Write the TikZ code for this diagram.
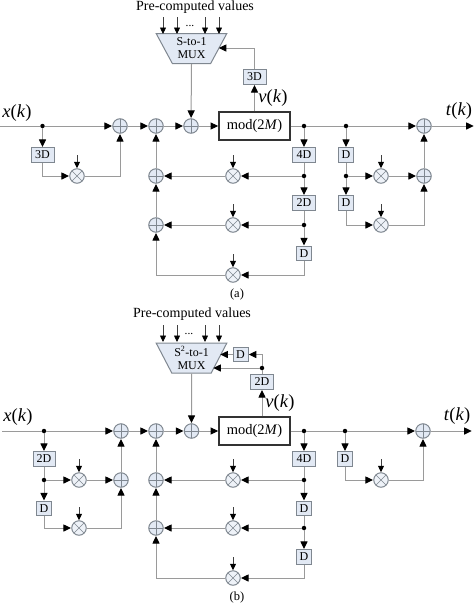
\documentclass[tikz,border=0pt]{standalone}
\usepackage{fontspec}
\setmainfont{Liberation Serif}
\usetikzlibrary{arrows.meta,shapes.geometric}
\definecolor{ln}{HTML}{9A9A9A}
\definecolor{bd}{HTML}{7F8790}
\definecolor{fl}{HTML}{E2E9F4}
\tikzset{
 conn/.style={draw=ln,line width=1pt,-{Triangle[length=7.5pt,width=7pt,color=black]},shorten >=0.3pt},
 plain/.style={draw=ln,line width=1pt},
 inarrow/.style={draw=black!75,line width=.7pt,-{Triangle[length=6.5pt,width=6pt,color=black]}},
 adderbase/.style={circle,draw=bd,line width=1pt,fill=fl,minimum size=14.5pt,inner sep=0pt},
 adder/.style={adderbase,path picture={\draw[bd,line width=.6pt] (path picture bounding box.north)--(path picture bounding box.south) (path picture bounding box.west)--(path picture bounding box.east);}},
 multi/.style={adderbase,fill=fl!60,path picture={\draw[bd,line width=.6pt] (path picture bounding box.north west)--(path picture bounding box.south east) (path picture bounding box.north east)--(path picture bounding box.south west);}},
 delaybox/.style={draw=bd,line width=1pt,fill=fl,minimum height=14.5pt,inner sep=0pt,font=\fontsize{12}{12}\selectfont},
 joint/.style={circle,fill=black,minimum size=4.5pt,inner sep=0pt},
 modbox/.style={draw=black!80,line width=1.1pt,fill=white,minimum width=71pt,minimum height=28pt,inner sep=0pt,font=\fontsize{14.5}{14.5}\selectfont},
 muxbox/.style={trapezium,trapezium stretches=true,shape border rotate=180,trapezium left angle=59,trapezium right angle=59,draw=bd,line width=1pt,fill=fl,minimum width=71pt,minimum height=30pt,inner sep=0pt,align=center,font=\fontsize{12}{14}\selectfont},
 sig/.style={font=\fontsize{18.5}{18.5}\selectfont,inner sep=0pt},
 captext/.style={font=\fontsize{14}{14}\selectfont,inner sep=0pt},
 smalltext/.style={font=\fontsize{12.5}{12.5}\selectfont,inner sep=0pt},
 subtext/.style={font=\fontsize{11.5}{11.5}\selectfont,inner sep=0pt},
}
\newcommand{\addnode}[3]{\node[adder] (#1) at (#2,#3) {};}
\newcommand{\mulnode}[3]{\node[multi] (#1) at (#2,#3) {};\coordinate (#1i) at (#2,#3-21);\draw[inarrow] (#1i) -- (#1);}
\newcommand{\dotnode}[3]{\node[joint] (#1) at (#2,#3) {};}
\newcommand{\delnode}[5]{\node[delaybox,minimum width=#5pt] (#1) at (#2,#3) {#4};}
\newcommand{\muxin}[3]{\coordinate (#1s) at (#2,#3-17);\coordinate (#1e) at (#2,#3);\draw[inarrow] (#1s) -- (#1e);}
\begin{document}
\begin{tikzpicture}[x=1pt,y=-1pt]
\useasboundingbox (0,0) rectangle (474,603);
% ---------- (a)
\node[captext] (tA) at (195,7.5) {Pre-computed values};
\node[muxbox] (muxA) at (191.5,48.5) {S-to-1\\[-1pt]MUX};
\muxin{ia1}{163}{34}\muxin{ia2}{177}{34}\muxin{ia3}{205}{34}\muxin{ia4}{219}{34}
\node[subtext] (dotsA) at (190,26) {...};
\coordinate (sA) at (0,126);
\dotnode{jA0}{42.5}{126}
\addnode{aA1}{120}{126}\addnode{aA2}{156}{126}\addnode{aA3}{191}{126}
\node[modbox] (modA) at (254.5,126) {mod(2\textit{M})};
\dotnode{jA1}{304}{126}\dotnode{jA2}{346}{126}
\addnode{aA4}{424}{126}
\coordinate (eA) at (474,126);
\node[sig] (xA) at (17,113) {\textit{x}(\textit{k})};
\node[sig] (tkA) at (459,111) {\textit{t}(\textit{k})};
\node[sig] (vA) at (273,98) {\textit{v}(\textit{k})};
\delnode{d3A}{254.5}{77}{3D}{23}
\coordinate (muxAr) at (218.5,48);
\draw[plain] (sA) -- (jA0);
\draw[conn] (jA0) -- (aA1);
\draw[conn] (aA1) -- (aA2);
\draw[conn] (aA2) -- (aA3);
\draw[conn] (aA3) -- (modA);
\draw[plain] (modA.east) -- (jA1);
\draw[plain] (jA1) -- (jA2);
\draw[conn] (jA2) -- (aA4);
\draw[conn] (aA4) -- (eA);
\draw[conn] (muxA.south) -- (aA3);
\draw[conn] (modA.north -| d3A) -- (d3A);
\draw[conn] (d3A) |- (muxAr);
% left FIR (a)
\delnode{d1A}{42.5}{155}{3D}{23}
\mulnode{mA0}{77}{176}
\draw[conn] (jA0) -- (d1A);
\draw[conn] (d1A) |- (mA0);
\draw[conn] (mA0) -| (aA1);
% feedback (a)
\addnode{aA5}{156}{176}\addnode{aA6}{156}{225}
\mulnode{mA1}{233}{176}\mulnode{mA2}{233}{225}\mulnode{mA3}{233}{275}
\delnode{dA4}{304}{155}{4D}{23}
\dotnode{jA3}{304}{176}
\delnode{dA5}{304}{203}{2D}{23}
\dotnode{jA4}{304}{225}
\delnode{dA6}{304}{253.5}{D}{15}
\draw[conn] (jA1) -- (dA4);
\draw[plain] (dA4) -- (jA3);
\draw[conn] (jA3) -- (dA5);
\draw[plain] (dA5) -- (jA4);
\draw[conn] (jA4) -- (dA6);
\draw[conn] (jA3) -- (mA1);
\draw[conn] (jA4) -- (mA2);
\draw[conn] (dA6) |- (mA3);
\draw[conn] (mA1) -- (aA5);
\draw[conn] (mA2) -- (aA6);
\draw[conn] (mA3) -| (aA6);
\draw[conn] (aA6) -- (aA5);
\draw[conn] (aA5) -- (aA2);
% right FIR (a)
\delnode{dA7}{346}{155}{D}{15}
\dotnode{jA5}{346}{176}
\delnode{dA8}{346}{203}{D}{15}
\mulnode{mA4}{381}{176}\mulnode{mA5}{381}{225}
\addnode{aA7}{424}{176}
\draw[conn] (jA2) -- (dA7);
\draw[plain] (dA7) -- (jA5);
\draw[conn] (jA5) -- (dA8);
\draw[conn] (jA5) -- (mA4);
\draw[conn] (dA8) |- (mA5);
\draw[conn] (mA4) -- (aA7);
\draw[conn] (mA5) -| (aA7);
\draw[conn] (aA7) -- (aA4);
\node[smalltext] (lA) at (237,294) {(a)};
% ---------- (b)
\node[captext] (tB) at (192,314) {Pre-computed values};
\node[muxbox] (muxB) at (191.5,358) {S\textsuperscript{2}-to-1\\[-1pt]MUX};
\muxin{ib1}{163}{342}\muxin{ib2}{177}{342}\muxin{ib3}{205}{342}\muxin{ib4}{219}{342}
\node[subtext] (dotsB) at (189,334) {...};
\coordinate (sB) at (2,431);
\dotnode{jB0}{44}{431}
\addnode{aB1}{121}{431}\addnode{aB2}{156}{431}\addnode{aB3}{191.5}{431}
\node[modbox] (modB) at (254.5,431) {mod(2\textit{M})};
\dotnode{jB1}{304}{431}\dotnode{jB2}{345}{431}
\addnode{aB4}{423}{431}
\coordinate (eB) at (472,431);
\node[sig] (xB) at (18,417) {\textit{x}(\textit{k})};
\node[sig] (tkB) at (457,416) {\textit{t}(\textit{k})};
\node[sig] (vB) at (280,403) {\textit{v}(\textit{k})};
\delnode{d2B}{262}{382}{2D}{23}
\dotnode{jB6}{262}{368}
\delnode{d1B}{240.5}{354.5}{D}{15}
\coordinate (muxBa) at (220,354.5);
\coordinate (muxBb) at (213,368);
\draw[plain] (sB) -- (jB0);
\draw[conn] (jB0) -- (aB1);
\draw[conn] (aB1) -- (aB2);
\draw[conn] (aB2) -- (aB3);
\draw[conn] (aB3) -- (modB);
\draw[plain] (modB.east) -- (jB1);
\draw[plain] (jB1) -- (jB2);
\draw[conn] (jB2) -- (aB4);
\draw[conn] (aB4) -- (eB);
\draw[conn] (muxB.south) -- (aB3);
\draw[conn] (modB.north -| d2B) -- (d2B);
\draw[plain] (d2B) -- (jB6);
\draw[conn] (jB6) -- (muxBb);
\draw[conn] (jB6) |- (d1B);
\draw[conn] (d1B) -- (muxBa);
% left FIR (b)
\delnode{dB1}{44}{459}{2D}{22}
\dotnode{jB3}{44}{480}
\delnode{dB2}{44}{508.5}{D}{15}
\mulnode{mB0}{79}{480}\mulnode{mB1}{79}{528}
\addnode{aB5}{121}{480}
\draw[conn] (jB0) -- (dB1);
\draw[plain] (dB1) -- (jB3);
\draw[conn] (jB3) -- (dB2);
\draw[conn] (jB3) -- (mB0);
\draw[conn] (dB2) |- (mB1);
\draw[conn] (mB0) -- (aB5);
\draw[conn] (mB1) -| (aB5);
\draw[conn] (aB5) -- (aB1);
% feedback (b)
\addnode{aB6}{156}{480}\addnode{aB7}{156}{528}
\mulnode{mB2}{233}{480}\mulnode{mB3}{233}{528}\mulnode{mB4}{233}{578}
\delnode{dB3}{304}{459}{4D}{23}
\dotnode{jB4}{304}{480}
\delnode{dB4}{304}{508.5}{D}{15}
\dotnode{jB5}{304}{528}
\delnode{dB5}{304}{557}{D}{15}
\draw[conn] (jB1) -- (dB3);
\draw[plain] (dB3) -- (jB4);
\draw[conn] (jB4) -- (dB4);
\draw[plain] (dB4) -- (jB5);
\draw[conn] (jB5) -- (dB5);
\draw[conn] (jB4) -- (mB2);
\draw[conn] (jB5) -- (mB3);
\draw[conn] (dB5) |- (mB4);
\draw[conn] (mB2) -- (aB6);
\draw[conn] (mB3) -- (aB7);
\draw[conn] (mB4) -| (aB7);
\draw[conn] (aB7) -- (aB6);
\draw[conn] (aB6) -- (aB2);
% right FIR (b)
\delnode{dB6}{345}{459}{D}{15}
\mulnode{mB5}{381}{480}
\draw[conn] (jB2) -- (dB6);
\draw[conn] (dB6) |- (mB5);
\draw[conn] (mB5) -| (aB4);
\node[smalltext] (lB) at (237,597) {(b)};
\end{tikzpicture}
\end{document}
